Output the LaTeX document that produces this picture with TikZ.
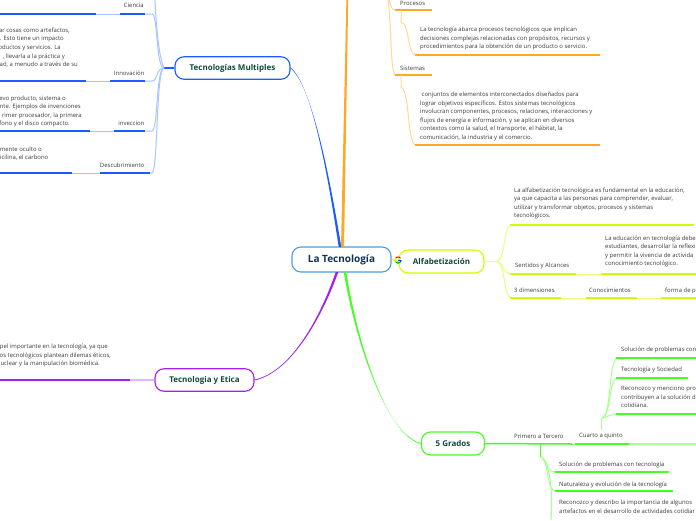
\documentclass[tikz,border=0pt]{standalone}
\usepackage{fontspec}
\setmainfont{Open Sans}
\definecolor{cblue}{HTML}{1A5CFF}
\definecolor{lblue}{HTML}{A9C4FF}
\definecolor{corange}{HTML}{FFA726}
\definecolor{lorange}{HTML}{FFD79A}
\definecolor{clime}{HTML}{CCFF00}
\definecolor{llime}{HTML}{E6FF80}
\definecolor{cgreen}{HTML}{44FF22}
\definecolor{lgreen}{HTML}{A8FF96}
\definecolor{cpurple}{HTML}{A020F0}
\definecolor{lpurple}{HTML}{E2B8FA}
\definecolor{rootb}{HTML}{4A9FDC}
\definecolor{titleg}{HTML}{0F4A3C}
\definecolor{titleb}{HTML}{10305A}
\definecolor{txt}{HTML}{3A3A3A}
\tikzset{
 x=1pt,y=-1pt,
 topic/.style={draw,rounded corners=9pt,line width=1.1pt,fill=white,inner sep=0pt,font=\fontsize{8}{9}\selectfont\bfseries,text=titleg,align=center},
 lbl/.style={font=\fontsize{5.95}{8.5}\selectfont,text=txt,inner sep=0pt,anchor=west},
 lblr/.style={lbl,anchor=east},
 para/.style={lbl,align=left,anchor=north west},
 thick line/.style={line width=1.5pt},
 soft/.style={line width=1pt},
}
% tapered link: colour, start, control 1, control 2, end
\newcommand{\taperlink}[5]{%
 \fill[#1] ([xshift=-1.3pt]#2) .. controls ([xshift=-.9pt]#3) and ([yshift=.4pt]#4) .. ([yshift=.4pt]#5)
   -- ([yshift=-.4pt]#5) .. controls ([yshift=-.4pt]#4) and ([xshift=.9pt]#3) .. ([xshift=1.3pt]#2) -- cycle;}
\begin{document}
\begin{tikzpicture}
\useasboundingbox (0,0) rectangle (696,520);
\clip (0,0) rectangle (696,520);
\fill[white] (0,0) rectangle (696,520);
% topic nodes
\node[topic,draw=rootb,minimum width=99pt,minimum height=25pt,text=titleb,font=\fontsize{10}{11}\selectfont\bfseries] (root) at (341.5,259.5) {La Tecnología};
\node[topic,draw=cblue,minimum width=115pt,minimum height=22.5pt] (multi) at (232.5,68) {Tecnologías Multiples};
\node[topic,draw=clime,minimum width=85pt,minimum height=23pt] (alfa) at (441.5,261.5) {Alfabetización};
\node[topic,draw=cpurple,minimum width=99pt,minimum height=22.5pt] (etica) at (204.5,380) {Tecnologia y Etica};
\node[topic,draw=cgreen,minimum width=63pt,minimum height=23pt] (grados) at (453,443.5) {5 Grados};
% main links
\coordinate (top) at (347.3,0);
\coordinate (rs1) at (340,247);
\coordinate (rs2) at (337,272);
\coordinate (rs3) at (345,272);
\coordinate (ca1) at (331,190); \coordinate (ca2) at (313,85);
\coordinate (cb1) at (322,315); \coordinate (cb2) at (292,372);
\coordinate (cc1) at (355,335); \coordinate (cc2) at (385,435);
\fill[corange] (341,247) -- (344,247) -- (348.2,0) -- (346.4,0) -- cycle;
\taperlink{cblue}{rs1}{ca1}{ca2}{multi.east}
\taperlink{cpurple}{rs2}{cb1}{cb2}{etica.east}
\taperlink{cgreen}{rs3}{cc1}{cc2}{grados.west}
\draw[clime,line width=1pt] (root.east) -- (alfa.west);
% google mark
\foreach \c/\a/\b in {{red!85!orange}/35/140,{yellow!90!orange}/140/215,{green!65!black}/215/320,{blue!75!cyan}/320/360}
  \draw[\c,line width=1.1pt] plot[domain=\a:\b,samples=8] ({398+3*cos(\x)},{260-3*sin(\x)});
\draw[blue!75!cyan,line width=1pt] (401,260) -- (398.2,260);
% Multiples branches
\coordinate (mh) at (164,68);
\draw[cblue,line width=1.1pt] (multi.west) -- (mh);
\foreach \yy/\xx in {14/145,81/145,131/145,173/150}
  \draw[lblue,soft] (mh) .. controls (156,68) and (158,\yy) .. (152,\yy) -- (\xx,\yy);
\draw[lblue,soft] (mh) .. controls (158,55) and (156,20) .. (155,0);
\foreach \a/\b/\c/\yy in {96/120/145/14,86/110/145/81,90/114/145/131,72/100/150/173}{
  \draw[lblue,soft] (\a,\yy) -- (\b,\yy);
  \draw[cblue,thick line] (0,\yy) -- (\a,\yy);
  \draw[cblue,thick line] (\b,\yy) -- (\c,\yy);
}
\node[lblr] (t1) at (144,5.5) {Ciencia};
\node[lblr] (t2) at (144.5,73.5) {Innovación};
\node[lblr] (t3) at (144.5,123.5) {inveccion};
\node[lblr] (t4) at (144.5,165.5) {Descubrimiento};
\node[lblr] (m1) at (70,30.5) {ar cosas como artefactos,};
\node[lblr] (m2) at (64,39.5) {. Esto tiene un impacto};
\node[lblr] (m3) at (61,48) {oductos y servicios. La};
\node[lblr] (m4) at (65,56.5) {, llevarla a la práctica y};
\node[lblr] (m5) at (78,65) {ad, a menudo a través de su};
\node[lblr] (m6) at (66,98.5) {evo producto, sistema o};
\node[lblr] (m7) at (81,107) {nte. Ejemplos de invenciones};
\node[lblr] (m8) at (82,115.5) {rimer procesador, la primera};
\node[lblr] (m9) at (70,124) {fono y el disco compacto.};
\node[lblr] (m10) at (42,149) {mente oculto o};
\node[lblr] (m11) at (48.5,157.5) {icilina, el carbono};
% Orange branches
\draw[lorange,soft] (389,0) .. controls (391,6) and (391,10) .. (396,10);
\draw[lorange,soft] (388,0) .. controls (392,30) and (390,75) .. (396,75);
\draw[corange,thick line] (395,10) -- (432,10);
\draw[corange,thick line] (395,75) -- (432,75);
\draw[lorange,soft] (401,10) -- (401,22) .. controls (410,24) and (407,55) .. (416,55);
\draw[lorange,soft] (401,75) -- (401,87) .. controls (410,90) and (407,145) .. (416,145);
\draw[corange,thick line] (415,55) -- (600,55);
\draw[corange,thick line] (415,145) -- (600,145);
\node[lbl] (p1) at (400,3) {Procesos};
\node[lbl] (p2) at (400,68) {Sistemas};
\node[para] (p3) at (420,27) {La tecnología abarca procesos tecnológicos que implican\\decisiones complejas relacionadas con propósitos, recursos y\\procedimientos para la obtención de un producto o servicio.};
\node[para] (p4) at (420,92) {\hspace{1.5pt}conjuntos de elementos interconectados diseñados para\\lograr objetivos específicos. Estos sistemas tecnológicos\\involucran componentes, procesos, relaciones, interacciones y\\flujos de energía e información, y se aplican en diversos\\contextos como la salud, el transporte, el hábitat, la\\comunicación, la industria y el comercio.};
% Alfabetizacion branches
\coordinate (ah) at (497,261.5);
\draw[llime,line width=1.8pt] (alfa.east) -- (ah);
\draw[llime,soft] (ah) .. controls (506,258) and (503,225) .. (512,225);
\draw[llime,soft] (ah) .. controls (503,262) and (503,274) .. (512,274);
\draw[llime,soft] (ah) .. controls (506,264) and (503,298) .. (512,298);
\draw[clime,thick line] (510,225) -- (694,225);
\draw[llime,soft] (576,274) -- (601,274);
\draw[clime,thick line] (510,274) -- (576,274);
\draw[clime,thick line] (601,274) -- (696,274);
\draw[llime,soft] (561,298) -- (661,298);
\draw[clime,thick line] (510,298) -- (561,298);
\draw[clime,thick line] (586,298) -- (637,298);
\draw[clime,thick line] (661,298) -- (696,298);
\node[para] (a1) at (514,187.5) {La alfabetización tecnológica es fundamental en la educación,\\ya que capacita a las personas para comprender, evaluar,\\utilizar y transformar objetos, procesos y sistemas\\tecnológicos.};
\node[lbl] (a2) at (515,266) {Sentidos y Alcances};
\node[para] (a3) at (605,235.5) {La educación en tecnología debe\\estudiantes, desarrollar la reflexi\\y permitir la vivencia de activida\\conocimiento tecnológico.};
\node[lbl] (a4) at (514,290.5) {3 dimensiones};
\node[lbl] (a5) at (589,290.5) {Conocimientos};
\node[lbl] (a6) at (665,290.5) {forma de p};
% Grados branches
\draw[cgreen,line width=1.5pt] (grados.east) -- (572,444);
\draw[lgreen,soft] (572,444) -- (575,444);
\draw[cgreen,thick line] (575,444) -- (629,444);
\draw[lgreen,line width=1.5pt] (629,444) -- (696,444);
\draw[lgreen,line width=1.6pt] (601.5,430) -- (601.5,418);
\draw[lgreen,soft] (602,418) .. controls (612,416) and (608,358) .. (618,358);
\draw[lgreen,soft] (602,418) .. controls (612,414) and (608,378) .. (618,378);
\draw[lgreen,soft] (602,418) .. controls (608,417) and (610,414) .. (618,414);
\draw[cgreen,thick line] (616,358) -- (696,358);
\draw[cgreen,thick line] (616,378) -- (688,378);
\draw[cgreen,thick line] (616,414) -- (696,414);
\node[lbl] (g1) at (514,436.5) {Primero a Tercero};
\node[lbl] (g2) at (579,436.5) {Cuarto a quinto};
\node[lbl] (g3) at (621,350) {Solución de problemas con};
\node[lbl] (g4) at (621,370) {Tecnología y Sociedad};
\node[para] (g5) at (621,386) {Reconozco y menciono pro\\contribuyen a la solución d\\cotidiana.};
\draw[cgreen,line width=1.1pt] (540.5,444) -- (540.5,457);
\draw[lgreen,soft] (541,457) .. controls (548,459) and (546,472) .. (556,472);
\draw[lgreen,soft] (541,457) .. controls (549,460) and (546,491) .. (556,491);
\draw[lgreen,soft] (541,457) .. controls (551,465) and (553,495) .. (551,520);
\draw[cgreen,thick line] (555,472) -- (669,472);
\draw[cgreen,thick line] (555,491) -- (673,491);
\node[lbl] (g6) at (559,464.5) {Solución de problemas con tecnología};
\node[lbl] (g7) at (559,484.5) {Naturaleza y evolución de la tecnología};
\node[para] (g8) at (559,500) {Reconozco y describo la importancia de algunos\\artefactos en el desarrollo de actividades cotidiar};
% Etica
\draw[lpurple,line width=1.2pt] (130,380) -- (etica.west);
\draw[cpurple,thick line] (0,380) -- (130,380);
\node[lblr] (e1) at (108,346.5) {pel importante en la tecnología, ya que};
\node[lblr] (e2) at (111,355.5) {os tecnológicos plantean dilemas éticos,};
\node[lblr] (e3) at (100,364) {uclear y la manipulación biomédica.};
\end{tikzpicture}
\end{document}
